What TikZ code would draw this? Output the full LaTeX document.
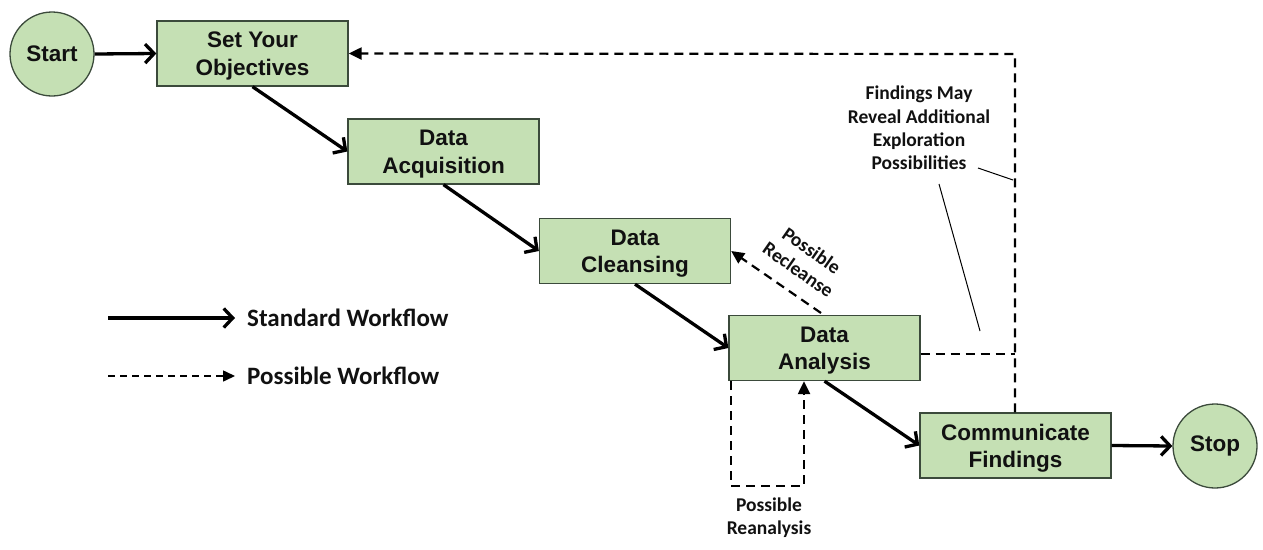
\documentclass[tikz,border=0pt]{standalone}
\usepackage{fontspec}
\setmainfont{Liberation Sans}
\newfontfamily\calib{Carlito}
\usetikzlibrary{arrows.meta}
\definecolor{boxgreen}{HTML}{C5E0B4}
\definecolor{boxline}{HTML}{3B4A3B}
\definecolor{ink}{HTML}{111111}
\tikzset{
  stepbox/.style={draw=boxline, line width=1.3pt, fill=boxgreen, minimum width=191pt, minimum height=65pt,
    inner sep=0pt},
  boxtext/.style={align=center, text=ink, inner sep=0pt, yshift=-2.5pt, font=\bfseries\fontsize{22.5}{27.5}\selectfont},
  termnode/.style={circle, draw=boxline, line width=1.3pt, fill=boxgreen, minimum size=84pt, inner sep=0pt,
    text=ink, font=\bfseries\fontsize{22.5}{27}\selectfont},
  solidflow/.style={draw=black, line width=3.3pt, -{Straight Barb[length=9pt,width=19pt,line width=3.3pt]}},
  dashflow/.style={draw=black, line width=2.2pt, dash pattern=on 9pt off 6pt},
  dashhead/.style={-{Triangle[length=13pt,width=12pt]}},
  note/.style={text=ink, align=center, font=\calib\bfseries\fontsize{19.5}{23.3}\selectfont, inner sep=0pt},
  legendtxt/.style={text=ink, anchor=west, inner sep=0pt, font=\calib\bfseries\fontsize{25}{29}\selectfont},
  thinline/.style={draw=black, line width=1pt}
}
\begin{document}
\begin{tikzpicture}[x=1pt,y=-1pt]
\useasboundingbox (0,0) rectangle (1263,549);
% nodes
\node[termnode] (start) at (52,54) {Start};
\node[stepbox, label={[boxtext]center:Set Your\\Objectives}] (syo) at (252.5,53.5) {};
\node[stepbox, label={[boxtext]center:Data\\Acquisition}] (acq) at (443.5,151.5) {};
\node[stepbox, label={[boxtext]center:Data\\Cleansing}] (cln) at (635,251) {};
\node[stepbox, label={[boxtext]center:Data\\Analysis}] (ana) at (824.5,348) {};
\node[stepbox, label={[boxtext]center:Communicate\\Findings}] (com) at (1015.5,445.5) {};
\node[termnode] (stop) at (1215,446) {Stop};
% standard flow
\draw[solidflow] (start.east) -- (syo.west);
\draw[solidflow] (syo.south) -- (acq.west);
\draw[solidflow] (acq.south) -- (cln.west);
\draw[solidflow] (cln.south) -- (ana.west);
\draw[solidflow] (ana.south) -- (com.west);
\draw[solidflow] (com.east) -- (stop.west);
% feedback loop to objectives
\coordinate (corner) at (1015,54);
\coordinate (join) at (1015,354);
\draw[dashflow, dashhead] (com.north -| corner) -- (corner) -- (syo.east);
\draw[dashflow] (ana.east |- join) -- (join);
% recleanse
\coordinate (rc) at (821,313);
\draw[dashflow, dashhead] (rc) -- (cln.east);
\node[note, rotate=-35] (rclabel) at (805,260) {Possible\\Recleanse};
% reanalysis
\coordinate (r1) at (731,486);
\coordinate (r2) at (804,486);
\draw[dashflow, dashhead] (ana.south -| r1) -- (r1) -- (r2) -- (ana.south -| r2);
\node[note] (ralabel) at (769,518) {Possible\\Reanalysis};
% annotation
\node[note] (findings) at (919,128) {Findings May\\Reveal Additional\\Exploration\\Possibilities};
\coordinate (f1a) at (978,168);
\coordinate (f1b) at (1013,180);
\coordinate (f2a) at (939,184);
\coordinate (f2b) at (980,331);
\draw[thinline] (f1a) -- (f1b);
\draw[thinline] (f2a) -- (f2b);
% legend
\coordinate (l1) at (108,318);
\coordinate (l2) at (235,318);
\coordinate (l3) at (108,376);
\coordinate (l4) at (235,376);
\draw[solidflow] (l1) -- (l2);
\draw[draw=black, line width=1.6pt, dash pattern=on 7pt off 5pt, -{Triangle[length=12pt,width=11pt]}] (l3) -- (l4);
\node[legendtxt] (stdtxt) at (247,318) {Standard Workflow};
\node[legendtxt] (postxt) at (247,376) {Possible Workflow};
\end{tikzpicture}
\end{document}
